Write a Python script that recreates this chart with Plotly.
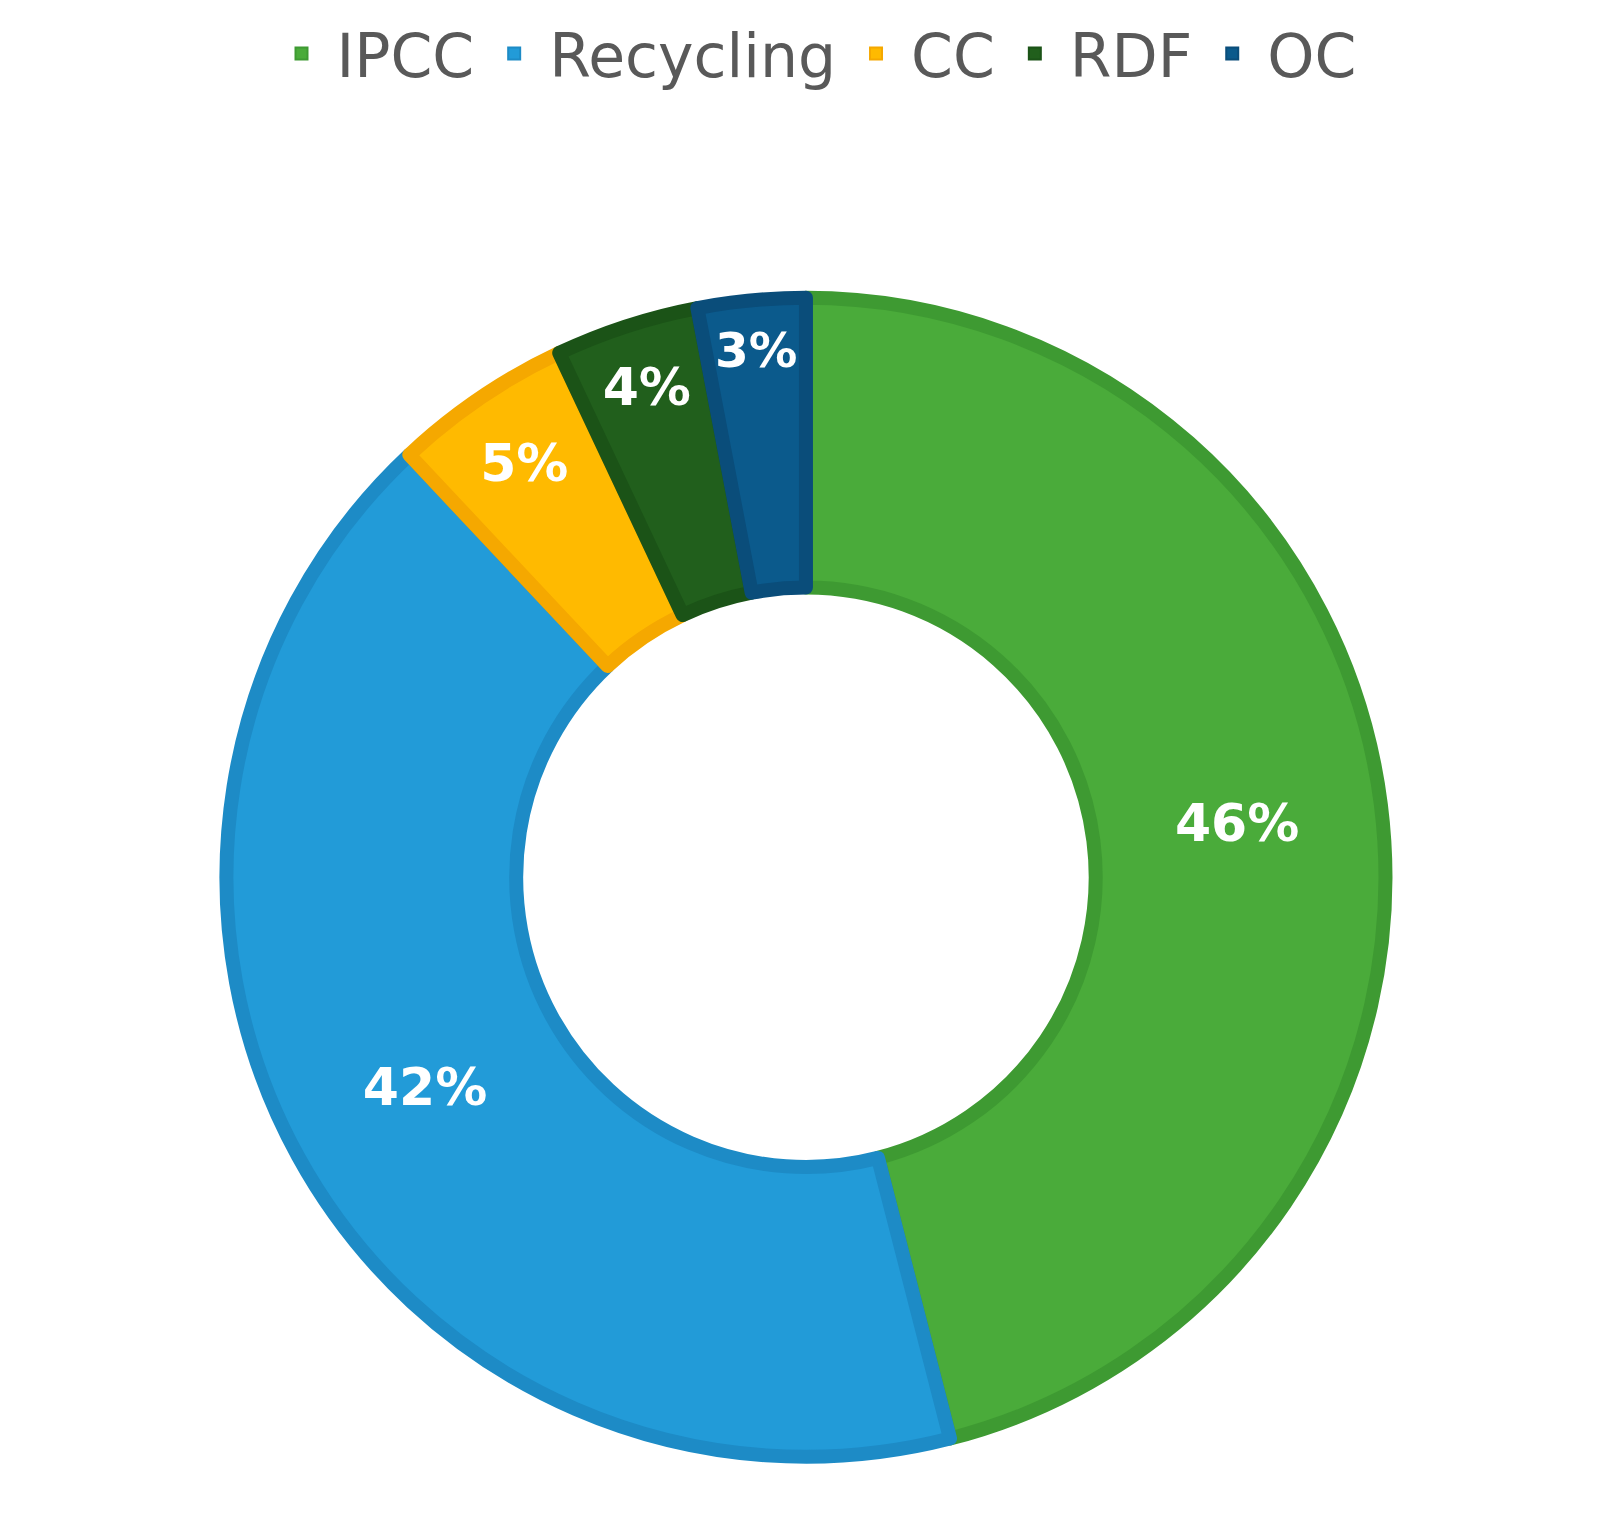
import plotly.graph_objects as go

labels = ["IPCC", "Recycling", "CC", "RDF", "OC"]
values = [46, 42, 5, 4, 3]
colors = ["#4aab3a", "#229bd8", "#ffba00", "#215f1c", "#0b5a8c"]
borders = ["#3e9a32", "#1d8bc6", "#f5a800", "#1b5317", "#0a4d7a"]

fig = go.Figure(go.Pie(
    labels=labels, values=values, sort=False, direction="clockwise", rotation=0,
    hole=0.5, marker=dict(colors=colors, line=dict(color=borders, width=14)),
    texttemplate="<b>%{percent:.0%}</b>", textposition="inside",
    insidetextorientation="horizontal",
    textfont=dict(color="white", size=52, family="DejaVu Sans"),
    domain=dict(x=[0.02, 0.97], y=[0.05, 0.81]),
))
fig.update_layout(
    width=1612, height=1525, paper_bgcolor="white", margin=dict(l=0, r=0, t=0, b=0),
    showlegend=True,
    legend=dict(orientation="h", x=0.5, xanchor="center", y=1.0, yanchor="top",
                font=dict(size=60, color="#595959", family="DejaVu Sans"),
                itemsizing="constant", itemwidth=60),
)
fig.write_html("out.html")
